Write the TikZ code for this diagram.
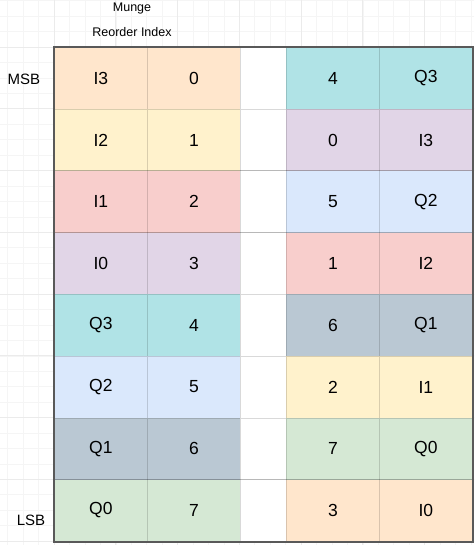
\documentclass[tikz,border=0pt]{standalone}
\usepackage{fontspec}
\setmainfont{Liberation Sans}

\definecolor{peach}{HTML}{FFE6CC}
\definecolor{cream}{HTML}{FFF2CC}
\definecolor{rose}{HTML}{F8CECC}
\definecolor{lilac}{HTML}{E1D5E7}
\definecolor{aqua}{HTML}{B0E3E6}
\definecolor{sky}{HTML}{DAE8FC}
\definecolor{slate}{HTML}{BAC8D3}
\definecolor{mint}{HTML}{D5E8D4}

\tikzset{
  cell/.style={rectangle, anchor=north west, inner sep=0pt, minimum height=61.75pt,
    draw=black, draw opacity=0.15, line width=0.8pt, font=\fontsize{17.5}{20}\selectfont},
  widecell/.style={cell, minimum width=93pt},
  gapcell/.style={cell, minimum width=46pt, fill=white},
  sidelabel/.style={font=\fontsize{15}{18}\selectfont},
  toplabel/.style={font=\fontsize{12.5}{15}\selectfont},
  minorgrid/.style={draw=black!4, line width=0.5pt},
  majorgrid/.style={draw=black!8, line width=0.6pt}
}

\begin{document}
\begin{tikzpicture}[x=1pt,y=-1pt]
                \useasboundingbox (0,0) rectangle (474,545);
                \fill[white] (0,0) rectangle (474,545);
                % background grid
                \begin{scope}
                \clip (0,0) rectangle (474,545);
                \begin{scope}[shift={(54,47)}]
                \draw[minorgrid] (-70,-70) grid[step=15.4375pt] (430,510);
                \draw[majorgrid] (-70,-70) grid[step=61.75pt] (430,510);
                \end{scope}
                \end{scope}
                \node[toplabel] (munge) at (132,9) {Munge};
                \node[toplabel] (reorder) at (132,32) {Reorder Index};
                \node[sidelabel] (msb) at (24,79) {MSB};
                \node[sidelabel] (lsb) at (31,520) {LSB};
                % shadow
                \fill[black!45] (57,50) rectangle (473,543);
                % row 1
                \node[widecell, fill=peach] (lab1) at (54,47) {I3};
                \node[widecell, fill=peach] (num1) at (147,47) {0};
                \node[gapcell] (gap1) at (240,47) {};
                \node[widecell, fill=aqua] (idx1) at (286,47) {4};
                \node[widecell, fill=aqua] (out1) at (379,47) {Q3};
                % row 2
                \node[widecell, fill=cream] (lab2) at (54,108.75) {I2};
                \node[widecell, fill=cream] (num2) at (147,108.75) {1};
                \node[gapcell] (gap2) at (240,108.75) {};
                \node[widecell, fill=lilac] (idx2) at (286,108.75) {0};
                \node[widecell, fill=lilac] (out2) at (379,108.75) {I3};
                % row 3
                \node[widecell, fill=rose] (lab3) at (54,170.5) {I1};
                \node[widecell, fill=rose] (num3) at (147,170.5) {2};
                \node[gapcell] (gap3) at (240,170.5) {};
                \node[widecell, fill=sky] (idx3) at (286,170.5) {5};
                \node[widecell, fill=sky] (out3) at (379,170.5) {Q2};
                % row 4
                \node[widecell, fill=lilac] (lab4) at (54,232.25) {I0};
                \node[widecell, fill=lilac] (num4) at (147,232.25) {3};
                \node[gapcell] (gap4) at (240,232.25) {};
                \node[widecell, fill=rose] (idx4) at (286,232.25) {1};
                \node[widecell, fill=rose] (out4) at (379,232.25) {I2};
                % row 5
                \node[widecell, fill=aqua] (lab5) at (54,294) {Q3};
                \node[widecell, fill=aqua] (num5) at (147,294) {4};
                \node[gapcell] (gap5) at (240,294) {};
                \node[widecell, fill=slate] (idx5) at (286,294) {6};
                \node[widecell, fill=slate] (out5) at (379,294) {Q1};
                % row 6
                \node[widecell, fill=sky] (lab6) at (54,355.75) {Q2};
                \node[widecell, fill=sky] (num6) at (147,355.75) {5};
                \node[gapcell] (gap6) at (240,355.75) {};
                \node[widecell, fill=cream] (idx6) at (286,355.75) {2};
                \node[widecell, fill=cream] (out6) at (379,355.75) {I1};
                % row 7
                \node[widecell, fill=slate] (lab7) at (54,417.5) {Q1};
                \node[widecell, fill=slate] (num7) at (147,417.5) {6};
                \node[gapcell] (gap7) at (240,417.5) {};
                \node[widecell, fill=mint] (idx7) at (286,417.5) {7};
                \node[widecell, fill=mint] (out7) at (379,417.5) {Q0};
                % row 8
                \node[widecell, fill=mint] (lab8) at (54,479.25) {Q0};
                \node[widecell, fill=mint] (num8) at (147,479.25) {7};
                \node[gapcell] (gap8) at (240,479.25) {};
                \node[widecell, fill=peach] (idx8) at (286,479.25) {3};
                \node[widecell, fill=peach] (out8) at (379,479.25) {I0};
                % outer frame
                \draw[black!65, line width=1.5pt] (lab1.north west) rectangle (out8.south east);
            \end{tikzpicture}
\end{document}
